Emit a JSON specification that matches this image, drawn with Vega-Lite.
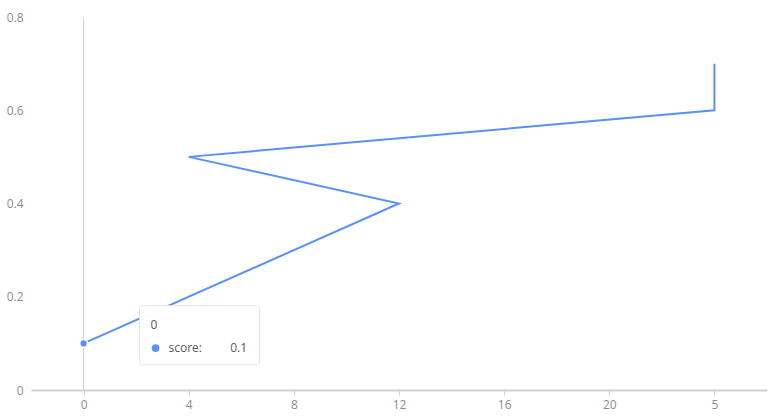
{
  "$schema": "https://vega.github.io/schema/vega-lite/v6.json",
  "width": 736,
  "height": 373,
  "autosize": "none",
  "padding": {"left": 31, "top": 17, "right": 8, "bottom": 28},
  "background": "white",
  "config": {
    "view": {"stroke": null},
    "font": "Open Sans",
    "axis": {"labelFont": "Open Sans", "labelFontSize": 12, "labelColor": "#8c8c8c"}
  },
  "datasets": {
    "series": [
      {"idx": 0, "x": 0, "score": 0.1},
      {"idx": 1, "x": 12, "score": 0.4},
      {"idx": 2, "x": 4, "score": 0.5},
      {"idx": 3, "x": 24, "score": 0.6},
      {"idx": 4, "x": 24, "score": 0.7}
    ],
    "tip": [
      {"x0": 2.13, "x1": 6.69, "y0": 0.054, "y1": 0.181}
    ],
    "tipDot": [
      {"x": 2.74, "y": 0.09}
    ],
    "tipText": [
      {"x": 2.55, "y": 0.139, "text": "0", "align": "left"},
      {"x": 3.23, "y": 0.09, "text": "score:", "align": "left"},
      {"x": 6.22, "y": 0.09, "text": "0.1", "align": "right"}
    ]
  },
  "layer": [
    {
      "data": {"name": "series"},
      "mark": {"type": "rule", "color": "#d0d0d0", "strokeWidth": 1},
      "transform": [{"filter": "datum.idx == 0"}],
      "encoding": {
        "x": {"field": "x", "type": "quantitative", "scale": {"domain": [-2, 26], "nice": false, "zero": false}},
        "y": {"datum": 0.8, "type": "quantitative"},
        "y2": {"datum": 0}
      }
    },
    {
      "data": {"name": "series"},
      "mark": {"type": "line", "color": "#5B8FF9", "strokeWidth": 2},
      "encoding": {
        "x": {
          "field": "x",
          "type": "quantitative",
          "scale": {"domain": [-2, 26], "nice": false, "zero": false},
          "axis": {
            "title": null,
            "grid": false,
            "values": [0, 4, 8, 12, 16, 20, 24],
            "labelExpr": "datum.value == 24 ? '5' : datum.label",
            "domainColor": "#d0d0d0",
            "domainWidth": 2,
            "tickColor": "#d0d0d0",
            "tickSize": 5,
            "labelPadding": 4
          }
        },
        "y": {
          "field": "score",
          "type": "quantitative",
          "scale": {"domain": [0, 0.8], "nice": false},
          "axis": {
            "title": null,
            "values": [0, 0.2, 0.4, 0.6, 0.8],
            "format": "~g",
            "domain": false,
            "ticks": false,
            "gridColor": "#e2e2e2",
            "gridWidth": 1,
            "labelPadding": 8
          }
        },
        "order": {"field": "idx"}
      }
    },
    {
      "data": {"name": "series"},
      "transform": [{"filter": "datum.idx == 0"}],
      "mark": {"type": "circle", "color": "#5B8FF9", "stroke": "white", "strokeWidth": 1.5, "size": 60, "opacity": 1},
      "encoding": {
        "x": {"field": "x", "type": "quantitative"},
        "y": {"field": "score", "type": "quantitative"}
      }
    },
    {
      "data": {"name": "tip"},
      "mark": {"type": "rect", "fill": "white", "stroke": "#e4e4e4", "strokeWidth": 1, "cornerRadius": 3, "opacity": 0.97},
      "encoding": {
        "x": {"field": "x0", "type": "quantitative"},
        "x2": {"field": "x1"},
        "y": {"field": "y0", "type": "quantitative"},
        "y2": {"field": "y1"}
      }
    },
    {
      "data": {"name": "tipDot"},
      "mark": {"type": "circle", "color": "#5B8FF9", "size": 60, "opacity": 1},
      "encoding": {
        "x": {"field": "x", "type": "quantitative"},
        "y": {"field": "y", "type": "quantitative"}
      }
    },
    {
      "data": {"name": "tipText"},
      "transform": [{"filter": "datum.align == 'left'"}],
      "mark": {"type": "text", "align": "left", "baseline": "middle", "fontSize": 12, "color": "#595959", "font": "Open Sans"},
      "encoding": {
        "x": {"field": "x", "type": "quantitative"},
        "y": {"field": "y", "type": "quantitative"},
        "text": {"field": "text"}
      }
    },
    {
      "data": {"name": "tipText"},
      "transform": [{"filter": "datum.align == 'right'"}],
      "mark": {"type": "text", "align": "right", "baseline": "middle", "fontSize": 12, "color": "#595959", "font": "Open Sans"},
      "encoding": {
        "x": {"field": "x", "type": "quantitative"},
        "y": {"field": "y", "type": "quantitative"},
        "text": {"field": "text"}
      }
    }
  ]
}
